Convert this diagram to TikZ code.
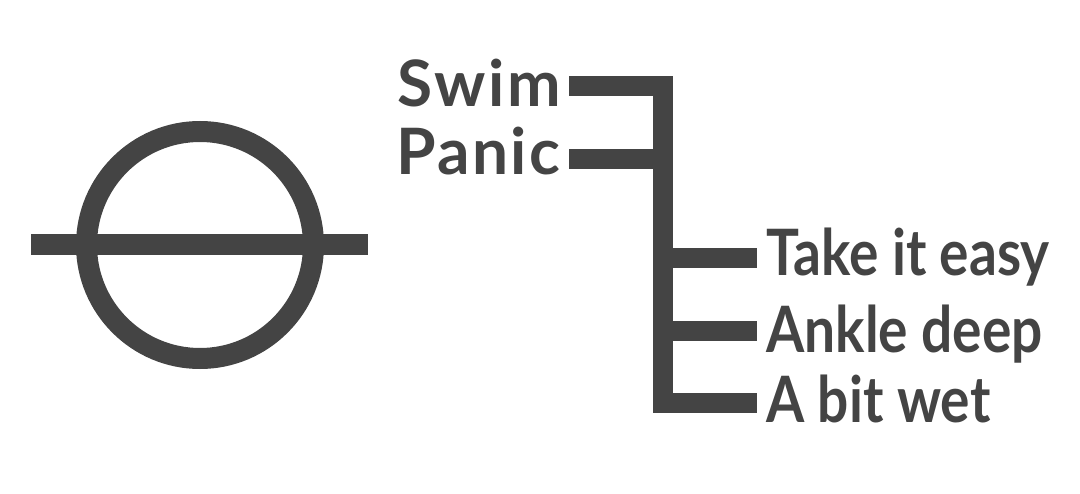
\documentclass[tikz,border=0pt]{standalone}
\usepackage{fontspec}
\setmainfont{Lato}[FakeStretch=0.86]
\newfontfamily\widefont{Lato}[LetterSpace=4]
\definecolor{ink}{HTML}{444444}
\tikzset{
  bar/.style={draw=ink,line width=10pt,line join=miter},
  ring/.style={draw=ink,line width=10.5pt},
  tag/.style={text=ink,inner sep=0pt,font=\fontsize{32}{36}\selectfont\bfseries},
  widetag/.style={tag,font=\widefont\fontsize{32}{36}\selectfont\bfseries}
}
\begin{document}
\begin{tikzpicture}[x=0.5pt,y=0.5pt]
  \useasboundingbox (0,0) rectangle (1080,493);

  % crossed circle
  \coordinate (hub) at (200,248);
  \coordinate (barL) at (31,248);
  \coordinate (barR) at (368,248);
  \draw[ring] (hub) circle[radius=113.5];
  \draw[ring] (barL) -- (barR);

  % labels
  \node[widetag,anchor=base east] (swim) at (561,386) {Swim};
  \node[widetag,anchor=base east] (panic) at (561,318) {Panic};
  \node[tag,anchor=base west] (easy) at (766,218) {Take it easy};
  \node[tag,anchor=base west] (ankle) at (766,141) {Ankle deep};
  \node[tag,anchor=base west] (wet) at (766,71) {A bit wet};

  % bar ends and spine joints
  \coordinate (swimEnd) at (569,406.5);
  \coordinate (panicEnd) at (569,334);
  \coordinate (easyEnd) at (757,235);
  \coordinate (ankleEnd) at (757,162);
  \coordinate (wetEnd) at (757,90);
  \coordinate (spineTop) at (663,406.5);
  \coordinate (spineBot) at (663,90);

  \draw[bar] (swimEnd) -- (spineTop) -- (spineBot) -- (wetEnd);
  \draw[bar] (panicEnd) -- (panicEnd -| spineTop);
  \draw[bar] (easyEnd -| spineTop) -- (easyEnd);
  \draw[bar] (ankleEnd -| spineTop) -- (ankleEnd);
\end{tikzpicture}
\end{document}
